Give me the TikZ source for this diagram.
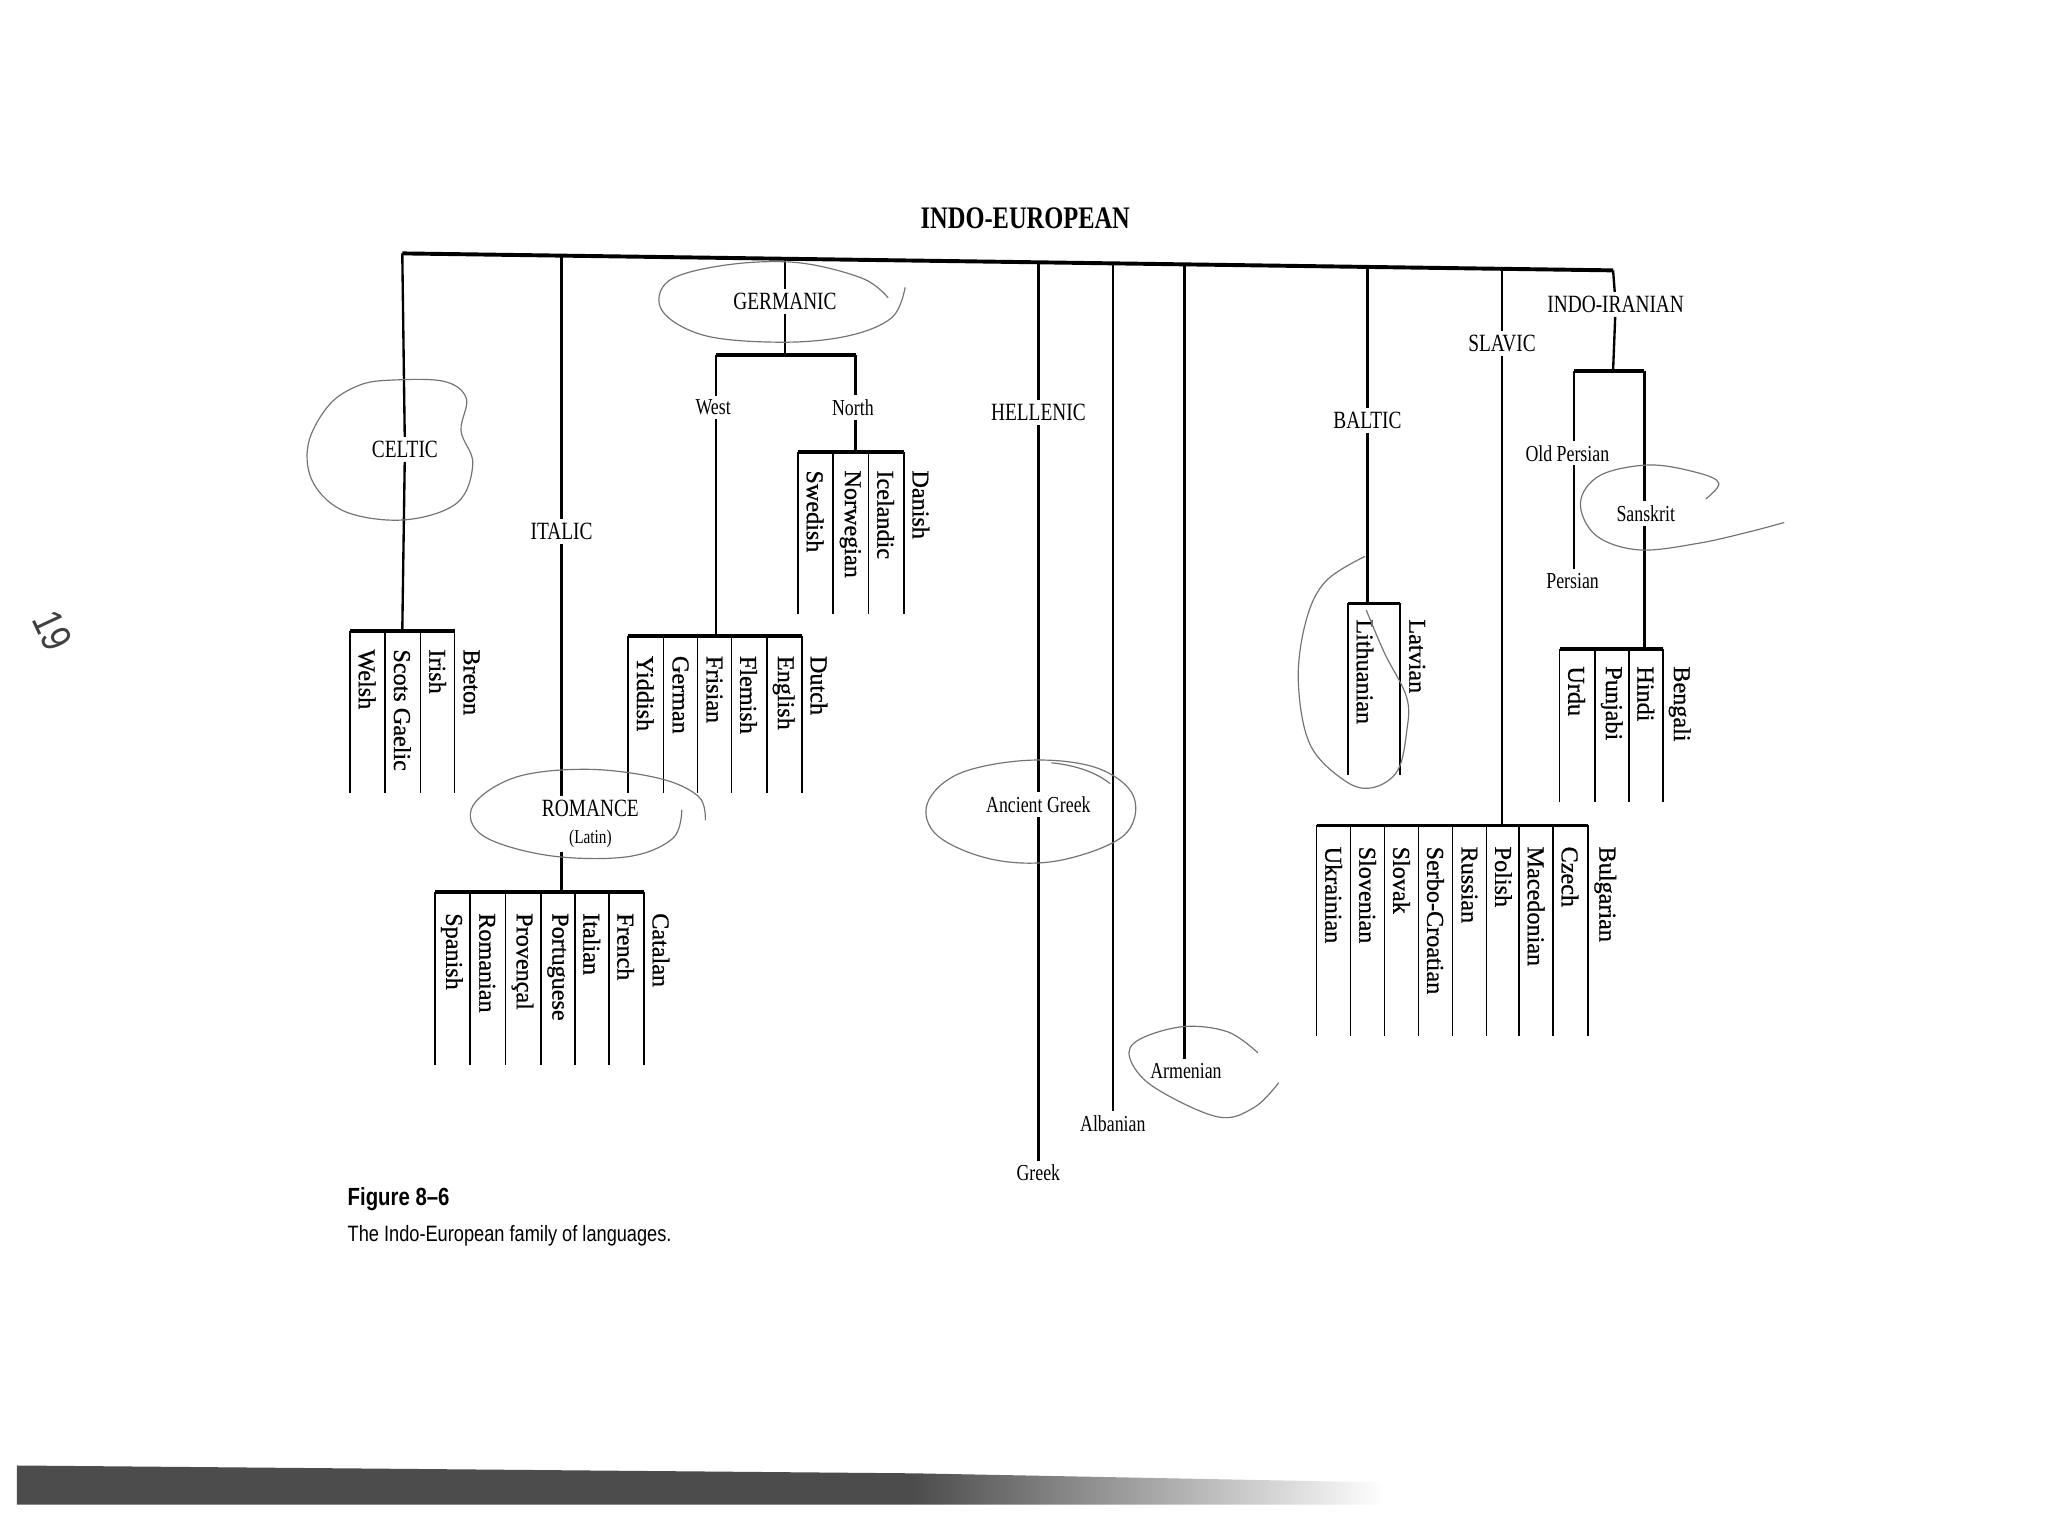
\documentclass[tikz,border=0pt]{standalone}
\usepackage{fontspec}
\setmainfont{Liberation Serif}
\newfontfamily\cond[FakeStretch=0.78]{Liberation Serif}
\newfontfamily\langfont[FakeBold=0.8]{Liberation Serif}
\newfontfamily\condsans[FakeStretch=0.82]{Liberation Sans}
\usetikzlibrary{calc}
\tikzset{
  topbar/.style={line width=3pt},
  subbar/.style={line width=2.8pt},
  stem/.style={line width=1.8pt},
  leaf/.style={line width=1.3pt},
  grp/.style={font=\cond\fontsize{19}{21}\selectfont, inner sep=3pt},
  sublbl/.style={font=\cond\fontsize{17.5}{19}\selectfont, inner sep=3pt},
  lang/.style={font=\langfont\fontsize{18.5}{20}\selectfont, rotate=-90, anchor=west, inner sep=0pt},
  hand/.style={draw=black!55, line width=0.9pt},
}
\newcommand\branch[5]{%
  \foreach \xx/\lbl [count=\i] in {#5}{
    \coordinate (#1t\i) at (\xx,#2);
    \coordinate (#1b\i) at (\xx,#3);
    \draw[leaf] (#1t\i) -- (#1b\i);
    \node[lang] (#1l\i) at ({\xx+13},{#2+#4}) {\lbl};
  }}
\begin{document}
\begin{tikzpicture}[x=1pt,y=-1pt]
\useasboundingbox (0,0) rectangle (1568,1176);
\fill[white] (0,0) rectangle (1568,1176);

\node[font=\cond\bfseries\fontsize{24}{26}\selectfont] (ie) at (785,167) {INDO-EUROPEAN};

% top bar
\coordinate (tCel) at (308,194);
\coordinate (tIta) at (430,196);
\coordinate (tGer) at (601,198);
\coordinate (tHel) at (795,201);
\coordinate (tAlb) at (852,202);
\coordinate (tArm) at (907,202);
\coordinate (tBal) at (1047,204);
\coordinate (tSla) at (1150,206);
\coordinate (tIir) at (1235,207);
\draw[topbar] (tCel) -- (tIir);

% Celtic
\node[grp] (cel) at (310,344) {CELTIC};
\coordinate (celBar) at (308,483);
\draw[stem] (tCel) -- (cel) -- (celBar);
\branch{cel}{483}{607}{14}{268/Welsh, 295/Scots Gaelic, 322/Irish, 348/Breton}
\draw[subbar] (celt1) -- (celt4);

% Italic
\node[grp] (ita) at (430,407) {ITALIC};
\node[grp] (rom) at (452,619) {ROMANCE};
\node[font=\cond\fontsize{15}{17}\selectfont, inner sep=3pt] (lat) at (452,642) {(Latin)};
\coordinate (romBar) at (430,683);
\draw[stem] (tIta) -- (ita) -- (ita |- rom.north);
\draw[stem] (ita |- lat.south) -- (romBar);
\branch{rom}{683}{815}{16}{333/Spanish, 360/Romanian, 387/Provençal, 414/Portuguese, 440/Italian, 466/French, 493/Catalan}
\draw[subbar] (romt1) -- (romt7);

% Germanic
\node[grp] (ger) at (601,231) {GERMANIC};
\coordinate (gerBar) at (601,272);
\draw[stem] (tGer) -- (ger) -- (gerBar);
\coordinate (westTop) at (548,272);
\coordinate (northTop) at (655,272);
\draw[subbar] (westTop) -- (northTop);
\node[sublbl] (west) at (546,312) {West};
\node[sublbl] (north) at (653,312) {North};
\coordinate (westBar) at (548,487);
\coordinate (northBar) at (655,346);
\draw[stem] (westTop) -- (westTop |- west.north);
\draw[stem] (westTop |- west.south) -- (westBar);
\draw[stem] (northTop) -- (northTop |- north.north);
\draw[stem] (northTop |- north.south) -- (northBar);
\branch{W}{487}{607}{15}{481/Yiddish, 508/German, 534/Frisian, 560/Flemish, 587/English, 614/Dutch}
\draw[subbar] (Wt1) -- (Wt6);
\branch{N}{346}{470}{14}{611/Swedish, 638/Norwegian, 665/Icelandic, 692/Danish}
\draw[subbar] (Nt1) -- (Nt4);

% Hellenic
\node[grp] (hel) at (795,316) {HELLENIC};
\node[sublbl] (ag) at (795,616) {Ancient Greek};
\node[sublbl] (gre) at (795,898) {Greek};
\draw[stem] (tHel) -- (hel) -- (ag) -- (gre);

% Albanian, Armenian
\node[sublbl] (alb) at (852,860) {Albanian};
\draw[stem] (tAlb) -- (alb);
\node[sublbl] (arm) at (908,820) {Armenian};
\draw[stem] (tArm) -- (tArm |- arm.north);

% Baltic
\node[grp] (bal) at (1047,322) {BALTIC};
\coordinate (balBar) at (1047,462);
\draw[stem] (tBal) -- (bal) -- (balBar);
\branch{B}{462}{593}{12}{1032/Lithuanian, 1072/Latvian}
\draw[subbar] (Bt1) -- (Bt2);

% Slavic
\node[grp] (sla) at (1150,263) {SLAVIC};
\coordinate (slaBar) at (1150,632);
\draw[stem] (tSla) -- (sla) -- (slaBar);
\branch{S}{632}{793}{16}{1008/Ukrainian, 1034/Slovenian, 1060/Slovak, 1086/Serbo-Croatian, 1112/Russian, 1138/Polish, 1163/Macedonian, 1189/Czech, 1216/Bulgarian}
\draw[subbar] (St1) -- (St9);

% Indo-Iranian
\node[grp] (iir) at (1237,233) {INDO-IRANIAN};
\coordinate (iirBar) at (1235,284);
\draw[stem] (tIir) -- (iir) -- (iirBar);
\coordinate (opTop) at (1205,284);
\coordinate (saTop) at (1259,284);
\draw[subbar] (opTop) -- (saTop);
\node[sublbl] (op) at (1200,347) {Old Persian};
\node[sublbl] (per) at (1204,445) {Persian};
\draw[stem] (opTop) -- (opTop |- op.north);
\draw[stem] (opTop |- op.south) -- (opTop |- per.north);
\node[sublbl] (san) at (1260,393) {Sanskrit};
\coordinate (indBar) at (1259,497);
\draw[stem] (saTop) -- (saTop |- san.north);
\draw[stem] (saTop |- san.south) -- (indBar);
\branch{I}{497}{614}{13}{1194/Urdu, 1221/Punjabi, 1247/Hindi, 1273/Bengali}
\draw[subbar] (It1) -- (It4);

% hand-drawn circles
\draw[hand] plot[smooth cycle, tension=0.6] coordinates {(300,291) (340,292) (357,305) (353,330) (362,355) (350,385) (310,398) (265,392) (240,370) (236,340) (252,310) (275,295)};
\draw[hand] plot[smooth, tension=0.6] coordinates {(693,220) (683,243) (650,257) (600,262) (540,257) (507,238) (512,215) (555,203) (610,201) (660,213) (680,228)};
\draw[hand] plot[smooth, tension=0.6] coordinates {(540,628) (535,610) (505,596) (450,589) (395,595) (362,617) (370,640) (420,655) (480,656) (515,642) (522,620)};
\draw[hand] plot[smooth cycle, tension=0.6] coordinates {(789,582) (840,588) (868,610) (860,640) (810,659) (760,658) (718,640) (710,615) (735,592)};
\draw[hand] (805,584) .. controls (825,586) and (840,592) .. (850,600);
\draw[hand] plot[smooth, tension=0.6] coordinates {(963,806) (940,790) (906,786) (872,796) (865,810) (883,832) (932,855) (960,848) (979,829)};
\draw[hand] plot[smooth, tension=0.6] coordinates {(1045,426) (1015,445) (1000,475) (994,521) (1003,570) (1030,598) (1051,603) (1070,590) (1077,560) (1077,534) (1060,500) (1046,467)};
\draw[hand] plot[smooth, tension=0.6] coordinates {(1306,382) (1316,370) (1300,362) (1263,356) (1225,364) (1210,385) (1222,410) (1255,421) (1300,416) (1340,407) (1366,400)};

% caption
\node[anchor=west, font=\condsans\bfseries\fontsize{19}{21}\selectfont, inner sep=0pt] (fig) at (266,918) {Figure 8–6};
\node[anchor=west, font=\condsans\fontsize{17}{19}\selectfont, inner sep=0pt] (cap) at (266,946) {The Indo-European family of languages.};

% handwritten mark
\node[rotate=-65, font=\condsans\fontsize{32}{32}\selectfont, text=black!75, inner sep=0pt] (hw) at (40,483) {19};

% bottom band
\fill[black!70] (13,1122) -- (700,1128) -- (700,1152) -- (13,1152) -- cycle;
\shade[left color=black!70, right color=white] (700,1128) -- (1060,1135) -- (1060,1152) -- (700,1152) -- cycle;
\end{tikzpicture}
\end{document}
